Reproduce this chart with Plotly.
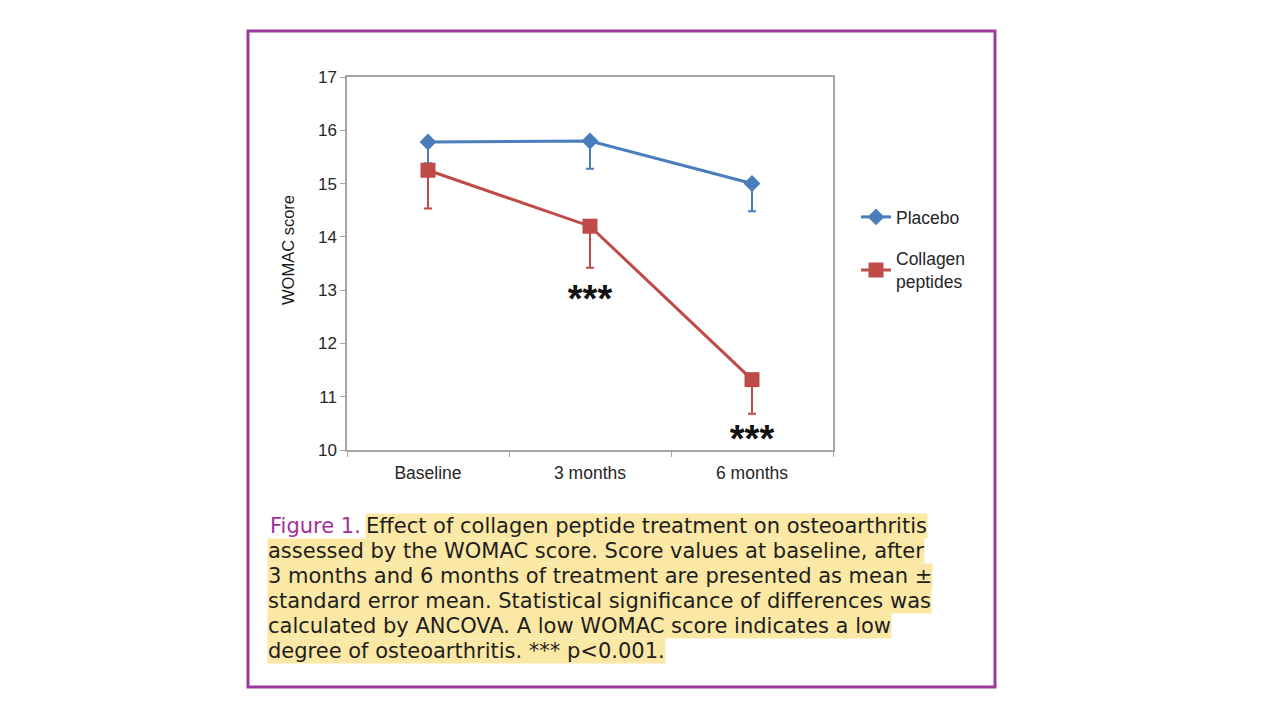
import plotly.graph_objects as go

# ---- data ----
categories = ["Baseline", "3 months", "6 months"]
placebo_mean = [15.78, 15.80, 15.00]
placebo_sem = [0.40, 0.52, 0.52]
collagen_mean = [15.25, 14.20, 11.32]
collagen_sem = [0.72, 0.78, 0.64]
sig_categories = ["3 months", "6 months"]
sig_y = [12.77, 10.14]
sig_text = ["***", "***"]
y_ticks = [10, 11, 12, 13, 14, 15, 16, 17]
y_title = "WOMAC score"

caption_label = "Figure 1."
caption_lines = [
    "Effect of collagen peptide treatment on osteoarthritis",
    "assessed by the WOMAC score. Score values at baseline, after",
    "3 months and 6 months of treatment are presented as mean \u00b1",
    "standard error mean. Statistical significance of differences was",
    "calculated by ANCOVA. A low WOMAC score indicates a low",
    "degree of osteoarthritis. *** p<0.001.",
]

BLUE = "#4a7ebb"
RED = "#be4b48"
PURPLE = "#9b3a9b"
HIGHLIGHT = "#fbe8a4"
AXIS = "#a6a6a6"
TXT = "#262626"

# plot area in pixels
L, R, T, B = 347, 833, 77, 450
W, H = 1280, 720


def px(x):
    return (x - L) / (R - L)


def py(y):
    return (B - y) / (B - T)


fig = go.Figure()
fig.add_trace(go.Scatter(
    x=categories, y=placebo_mean, name="Placebo", mode="lines+markers",
    line=dict(color=BLUE, width=3),
    marker=dict(symbol="diamond", size=13, color=BLUE),
    error_y=dict(type="data", symmetric=False, array=[0, 0, 0],
                 arrayminus=placebo_sem, color=BLUE, thickness=2, width=4),
    legendgroup="a",
))
fig.add_trace(go.Scatter(
    x=categories, y=collagen_mean, name="Collagen<br>peptides", mode="lines+markers",
    line=dict(color=RED, width=3),
    marker=dict(symbol="square", size=15, color=RED),
    error_y=dict(type="data", symmetric=False, array=[0, 0, 0],
                 arrayminus=collagen_sem, color=RED, thickness=2, width=4),
    legendgroup="b",
))
fig.add_trace(go.Scatter(
    x=sig_categories, y=sig_y, text=sig_text, mode="text", showlegend=False,
    textfont=dict(family="Liberation Sans, Arial", size=38, color="#111111", weight="bold"),
    hoverinfo="skip",
))

fig.update_layout(
    width=W, height=H,
    margin=dict(l=L, r=W - R, t=T, b=H - B, pad=0),
    paper_bgcolor="white", plot_bgcolor="white",
    font=dict(family="Liberation Sans, Arial", size=17, color=TXT),
    showlegend=True,
    legend=dict(x=px(856), y=py(199), xanchor="left", yanchor="top",
                font=dict(size=17.5, color=TXT), tracegroupgap=16,
                bgcolor="rgba(0,0,0,0)"),
    xaxis=dict(type="category", categoryorder="array", categoryarray=categories,
               range=[-0.5, 2.5], showline=True, linecolor=AXIS, linewidth=1.5,
               mirror=True, ticks="outside", tickson="boundaries", ticklen=5,
               tickcolor=AXIS, showgrid=False, tickfont=dict(size=17.5, color=TXT),
               ticklabelstandoff=6, zeroline=False),
    yaxis=dict(range=[10, 17], tickvals=y_ticks, showline=True, linecolor=AXIS,
               linewidth=1.5, mirror=True, ticks="outside", ticklen=5, tickcolor=AXIS,
               showgrid=False, zeroline=False, tickfont=dict(size=17, color=TXT)),
)

# y-axis title
fig.add_annotation(xref="paper", yref="paper", x=px(288), y=py(250),
                   xanchor="center", yanchor="middle", text=y_title, textangle=-90,
                   showarrow=False, font=dict(family="Liberation Sans, Arial", size=16.5,
                                              color="#1a1a1a"))

# purple frame
fig.add_shape(type="rect", xref="paper", yref="paper",
              x0=px(248), x1=px(995), y0=py(31), y1=py(687),
              line=dict(color=PURPLE, width=3), fillcolor="rgba(0,0,0,0)")

# caption
cap_font = dict(family="DejaVu Sans", size=21, color="#1e1e1e")
line_y = [526, 551, 576, 601, 626, 651]
fig.add_annotation(xref="paper", yref="paper", x=px(268), y=py(line_y[0]),
                   xanchor="left", yanchor="middle", text=caption_label, showarrow=False,
                   font=dict(family="DejaVu Sans", size=21, color="#a0309a"))
for i, (txt, yy) in enumerate(zip(caption_lines, line_y)):
    x0 = 365 if i == 0 else 267
    fig.add_annotation(xref="paper", yref="paper", x=px(x0), y=py(yy),
                       xanchor="left", yanchor="middle", text=txt, showarrow=False,
                       font=cap_font, bgcolor=HIGHLIGHT, borderpad=0)

fig.write_html("out.html")
